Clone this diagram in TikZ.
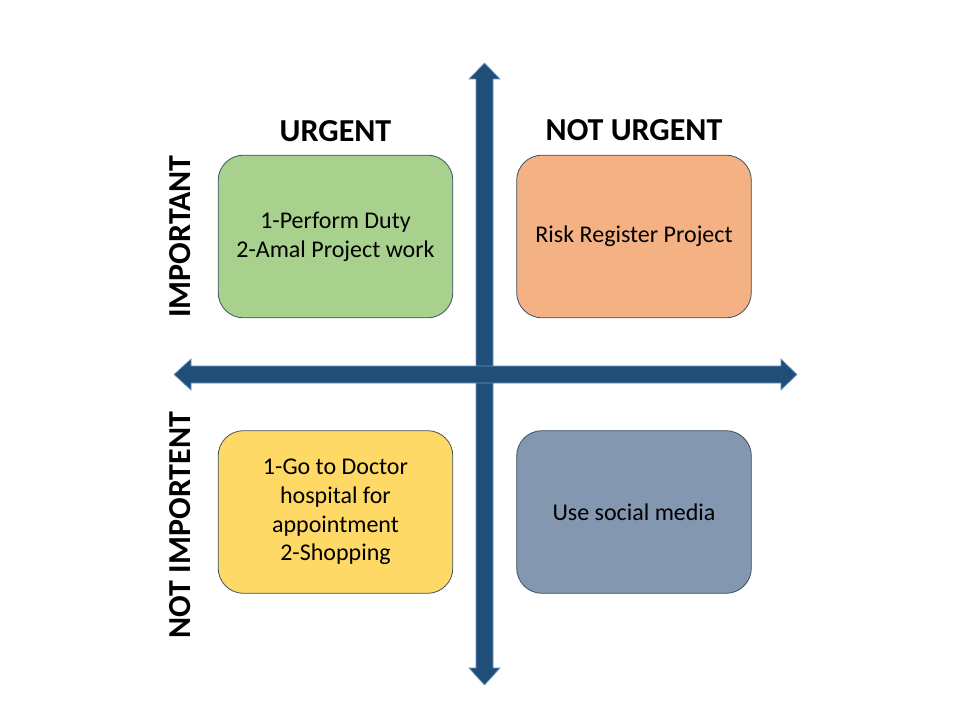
\documentclass[tikz,border=0pt]{standalone}
\usepackage{fontspec}
\setmainfont{Carlito}
\usetikzlibrary{positioning}
\definecolor{axisblue}{HTML}{1F4E79}
\definecolor{axisedge}{HTML}{6E93BA}
\definecolor{boxline}{HTML}{3E5260}
\definecolor{qgreen}{HTML}{A9D18E}
\definecolor{qorange}{HTML}{F4B183}
\definecolor{qyellow}{HTML}{FFD966}
\definecolor{qslate}{HTML}{8497B0}

\begin{document}
\begin{tikzpicture}[
    x=0.75pt, y=-0.75pt,
    quad/.style={draw=boxline, line width=0.6pt, rounded corners=19pt,
      minimum width=176pt, minimum height=122pt, align=center,
      font=\fontsize{18}{21.5}\selectfont},
    head/.style={font=\fontsize{24}{29}\selectfont\bfseries},
    axis/.style={fill=axisblue, draw=axisedge, line width=0.5pt}
  ]
  \useasboundingbox (0,0) rectangle (960,720);

  % axes
  \draw[axis] (476,79) -- (469,79) -- (484.5,63) -- (500,79) -- (493,79)
    -- (493,668) -- (500,668) -- (484.5,685) -- (469,668) -- (476,668) -- cycle;
  \draw[axis] (191,366) -- (191,359) -- (174,374.5) -- (191,390) -- (191,383)
    -- (781,383) -- (781,390) -- (797,374.5) -- (781,359) -- (781,366) -- cycle;

  % quadrants
  \node[quad, fill=qgreen] (doit) at (335.5,236.5)
    {1-Perform Duty\\2-Amal Project work};
  \node[quad, fill=qorange] (plan) at (634,236.5) {Risk Register Project};
  \node[quad, fill=qyellow] (hand) at (335.5,512)
    {1-Go to Doctor\\hospital for\\appointment\\2-Shopping};
  \node[quad, fill=qslate] (drop) at (634,512) {Use social media};

  % headings
  \node[head, above=6pt of doit] (urgent) {URGENT};
  \node[head, above=7pt of plan] (noturgent) {NOT URGENT};
  \node[head, rotate=90] (important) at (180,236.5) {IMPORTANT};
  \node[head, rotate=90] (notimportant) at (180,525) {NOT IMPORTENT};
\end{tikzpicture}
\end{document}
